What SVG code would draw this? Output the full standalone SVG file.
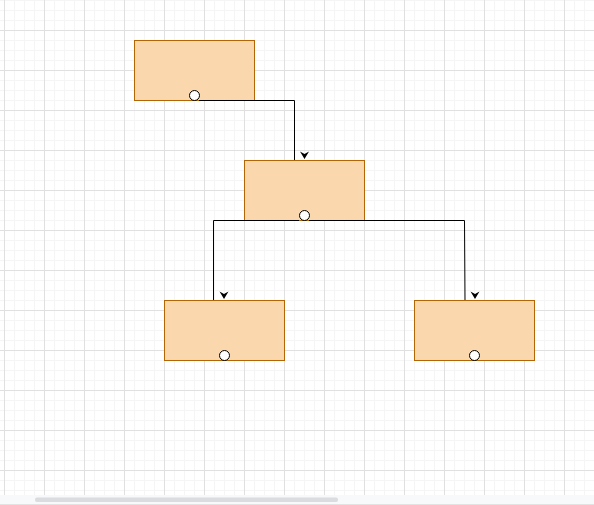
<svg xmlns="http://www.w3.org/2000/svg" width="594" height="505" viewBox="0 0 594 505">
  <defs>
    <pattern id="minor" x="4" y="0" width="10" height="10" patternUnits="userSpaceOnUse">
      <path d="M0 0.5H10M0.5 0V10" fill="none" stroke="#f5f5f5" stroke-width="1"/>
    </pattern>
    <pattern id="major" x="4" y="30" width="40" height="40" patternUnits="userSpaceOnUse">
      <path d="M0 0.5H40M0.5 0V40" fill="none" stroke="#e0e0e0" stroke-width="1"/>
    </pattern>
    <style>
      .box{fill:#fad7ac;stroke:#b46504;stroke-width:1}
      .port{fill:#fff;stroke:#000;stroke-width:1}
      .edge{fill:none;stroke:#000;stroke-width:1}
      .tip{fill:#000}
    </style>
  </defs>
  <rect width="594" height="505" fill="#fff"/>
  <rect width="594" height="495" fill="url(#minor)"/>
  <rect width="594" height="495" fill="url(#major)"/>

  <g id="node-top">
    <rect class="box" x="134.5" y="40.5" width="120" height="60"/>
    <circle class="port" cx="194.5" cy="95.5" r="5"/>
  </g>
  <g id="node-middle">
    <rect class="box" x="244.5" y="160.5" width="120" height="60"/>
    <circle class="port" cx="304.5" cy="215.5" r="5"/>
  </g>
  <g id="node-left">
    <rect class="box" x="164.5" y="300.5" width="120" height="60"/>
    <circle class="port" cx="224.5" cy="355.5" r="5"/>
  </g>
  <g id="node-right">
    <rect class="box" x="414.5" y="300.5" width="120" height="60"/>
    <circle class="port" cx="474.5" cy="355.5" r="5"/>
  </g>

  <g id="connectors">
    <path class="edge" d="M199 100.5H294.5V160"/>
    <path class="tip" d="M300 151.5L304.5 154L309 151.5L304.5 159Z"/>
    <path class="edge" d="M299 220.5H213.5V300"/>
    <path class="tip" d="M219.5 291.5L224 294L228.5 291.5L224 299Z"/>
    <path class="edge" d="M309 220.5H464.5L465 300"/>
    <path class="tip" d="M470.5 291.5L475 294L479.5 291.5L475 299Z"/>
  </g>

  <rect x="0" y="495" width="594" height="10" fill="#f8f9fa"/>
  <rect x="35" y="497.5" width="303" height="4.5" rx="2" fill="#dadce0"/>
  <line x1="0" y1="504.5" x2="594" y2="504.5" stroke="#e2e2e2"/>
</svg>
